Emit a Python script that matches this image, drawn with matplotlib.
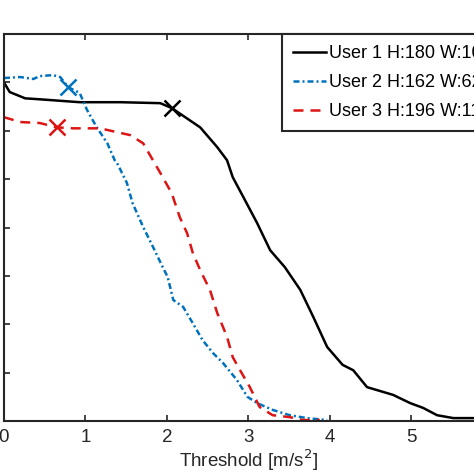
import numpy as np
import matplotlib
matplotlib.use("Agg")
import matplotlib.pyplot as plt

plt.rcParams["font.family"] = ["Liberation Sans", "DejaVu Sans"]

# User 1 (solid black)
x_u1 = [0.00, 0.07, 0.26, 0.44, 0.93, 1.43, 1.92, 2.06, 2.41, 2.62, 2.74, 2.81, 2.94,
        3.11, 3.27, 3.45, 3.64, 3.80, 3.97, 4.16, 4.29, 4.46, 4.58, 4.78, 4.99, 5.15,
        5.32, 5.52, 5.76, 6.00]
y_u1 = [7.00, 6.80, 6.67, 6.65, 6.59, 6.59, 6.57, 6.47, 6.07, 5.66, 5.39, 5.04, 4.63,
        4.09, 3.53, 3.18, 2.71, 2.15, 1.53, 1.16, 1.05, 0.70, 0.64, 0.54, 0.37, 0.27,
        0.12, 0.06, 0.06, 0.04]

# User 2 (dash-dot blue)
x_u2 = [0.00, 0.20, 0.36, 0.44, 0.60, 0.69, 0.79, 0.93, 1.02, 1.14, 1.27, 1.36, 1.39,
        1.51, 1.58, 1.71, 1.83, 1.95, 2.01, 2.08, 2.20, 2.32, 2.44, 2.57, 2.69, 2.86,
        2.99, 3.11, 3.30, 3.51, 3.72, 3.97]
y_u2 = [7.09, 7.11, 7.07, 7.13, 7.15, 7.11, 6.90, 6.78, 6.43, 6.07, 5.74, 5.39, 5.33,
        4.92, 4.50, 4.01, 3.60, 3.18, 2.98, 2.50, 2.36, 2.02, 1.67, 1.40, 1.20, 0.85,
        0.50, 0.37, 0.23, 0.12, 0.06, 0.02]

# User 3 (dashed red)
x_u3 = [0.00, 0.20, 0.44, 0.65, 0.85, 1.06, 1.18, 1.39, 1.55, 1.71, 1.83, 1.95, 2.06,
        2.16, 2.25, 2.32, 2.41, 2.53, 2.62, 2.74, 2.81, 2.90, 3.02, 3.14, 3.30, 3.51,
        3.67, 3.88]
y_u3 = [6.28, 6.18, 6.16, 6.07, 6.05, 6.05, 6.05, 5.97, 5.91, 5.74, 5.39, 5.04, 4.71,
        4.21, 3.88, 3.47, 3.12, 2.71, 2.23, 1.74, 1.32, 1.05, 0.70, 0.29, 0.12, 0.08,
        0.02, 0.02]

# chosen operating points
mark_x = [2.06, 0.79, 0.65]
mark_y = [6.47, 6.90, 6.07]

labels = ["User 1 H:180 W:100", "User 2 H:162 W:62", "User 3 H:196 W:110"]
colors = ["black", "#0072BD", "#DD1414"]

fig = plt.figure(figsize=(4.74, 4.74), dpi=100)
ax = fig.add_axes([4 / 474, 53 / 474, 488.4 / 474, 387 / 474])

ax.plot(x_u1, y_u1, color=colors[0], lw=1.8, label=labels[0])
ax.plot(x_u2, y_u2, color=colors[1], lw=1.8, dashes=(2.4, 1.2, 0.8, 1.2), label=labels[1])
ax.plot(x_u3, y_u3, color=colors[2], lw=1.8, dashes=(4, 2.8), label=labels[2])
for mx, my, c in zip(mark_x, mark_y, colors):
    ax.plot(mx, my, "x", color=c, ms=12, mew=1.8)

ax.set_xlim(0, 6)
ax.set_ylim(0, 8)
ax.set_xticks(np.arange(0, 7, 1))
ax.set_yticks(np.arange(0, 9, 1))
ax.tick_params(direction="in", length=4, width=1.2, top=True, right=True,
               labelsize=13.5, colors="#262626", pad=6)
for s in ax.spines.values():
    s.set_linewidth(1.5)
    s.set_color("#262626")
ax.set_xlabel("Threshold [m/s$^2$]", fontsize=13.5, color="#262626", labelpad=1)

leg = ax.legend(loc="upper left", bbox_to_anchor=(282 / 474, 1 - 34 / 474),
                bbox_transform=fig.transFigure, borderaxespad=0, fancybox=False,
                edgecolor="#262626", framealpha=1, fontsize=13, handlelength=1.85,
                handletextpad=0.15, labelspacing=0.68, borderpad=0.6)
leg.get_frame().set_linewidth(1.5)

fig.savefig("out.png", dpi=100)
